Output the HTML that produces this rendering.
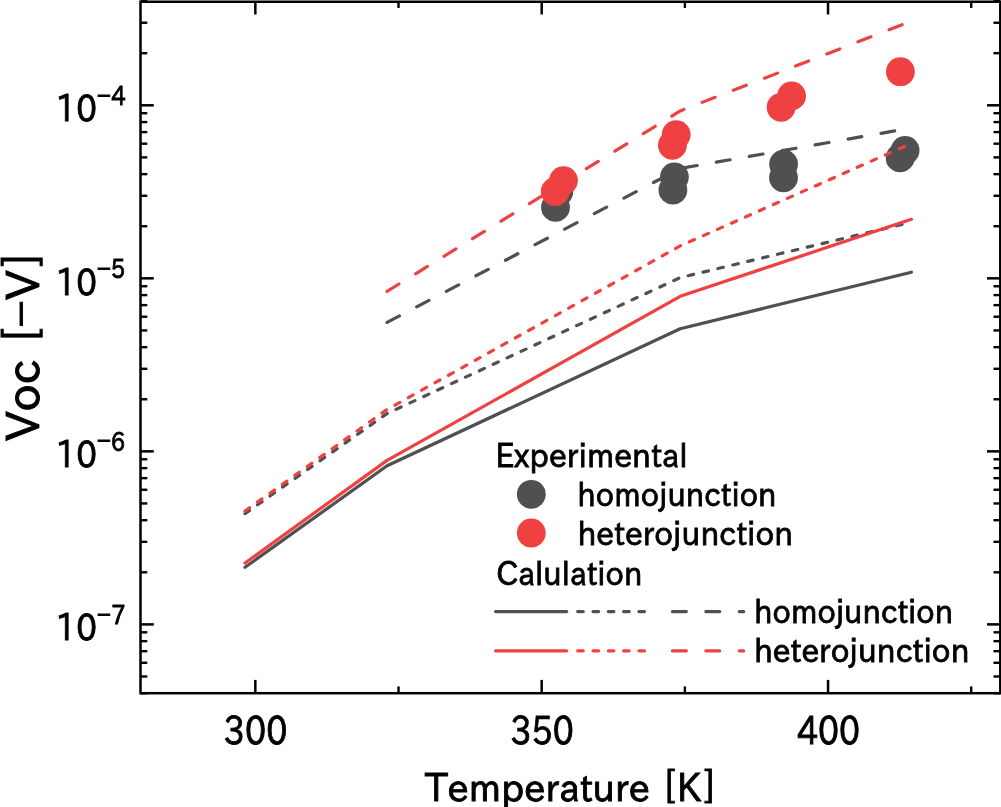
<!DOCTYPE html>
<html><head><meta charset="utf-8"><title>Voc vs Temperature</title>
<style>html,body{margin:0;padding:0;background:#fff;overflow:hidden}svg{display:block;filter:blur(0.35px)}</style>
</head><body>
<svg width="1001" height="807" viewBox="0 0 1001 807"><g fill="#505050"><circle cx="555.5" cy="207.4" r="14.4"/><circle cx="558.8" cy="191.8" r="14.4"/><circle cx="674.4" cy="177" r="14.4"/><circle cx="672.9" cy="190" r="14.4"/><circle cx="783.6" cy="164.2" r="14.4"/><circle cx="783.5" cy="177.8" r="14.4"/><circle cx="905.1" cy="150.5" r="14.4"/><circle cx="900.1" cy="157.9" r="14.4"/></g>
<g fill="#EF4141"><circle cx="555.2" cy="191.6" r="14.4"/><circle cx="563.5" cy="180.6" r="14.4"/><circle cx="676.2" cy="134.7" r="14.4"/><circle cx="672.4" cy="145.3" r="14.4"/><circle cx="791.6" cy="95.9" r="14.4"/><circle cx="781.1" cy="107.3" r="14.4"/><circle cx="900.4" cy="71.7" r="14.4"/></g>
<polyline points="245.0,567.2 387.1,465.8 680.2,328.7 911.4,272.2" fill="none" stroke="#505050" stroke-width="3.2" stroke-linecap="round" stroke-linejoin="round" />
<polyline points="245.0,513.6 387.1,413.5 680.2,277.6 911.4,222.2" fill="none" stroke="#505050" stroke-width="3.2" stroke-linecap="round" stroke-linejoin="round" stroke-dasharray="5.56 9.745"/>
<polyline points="387.1,322.4 680.2,168.5 911.4,128.0" fill="none" stroke="#505050" stroke-width="3.2" stroke-linecap="round" stroke-linejoin="round" stroke-dasharray="13.93 19.5"/>
<polyline points="245.0,563.0 387.1,460.4 680.2,296.3 911.4,219.3" fill="none" stroke="#EF4141" stroke-width="3.2" stroke-linecap="round" stroke-linejoin="round" />
<polyline points="245.0,511.0 387.1,409.5 680.2,245.9 911.4,143.3" fill="none" stroke="#EF4141" stroke-width="3.2" stroke-linecap="round" stroke-linejoin="round" stroke-dasharray="5.56 9.745"/>
<polyline points="387.1,291.3 680.2,110.9 911.4,21.1" fill="none" stroke="#EF4141" stroke-width="3.2" stroke-linecap="round" stroke-linejoin="round" stroke-dasharray="13.93 19.5"/>
<line x1="255.34" y1="693.20" x2="255.34" y2="679.90" stroke="#000" stroke-width="2.5"/><line x1="255.34" y1="1.75" x2="255.34" y2="14.45" stroke="#000" stroke-width="2.5"/><line x1="541.69" y1="693.20" x2="541.69" y2="679.90" stroke="#000" stroke-width="2.5"/><line x1="541.69" y1="1.75" x2="541.69" y2="14.45" stroke="#000" stroke-width="2.5"/><line x1="828.04" y1="693.20" x2="828.04" y2="679.90" stroke="#000" stroke-width="2.5"/><line x1="828.04" y1="1.75" x2="828.04" y2="14.45" stroke="#000" stroke-width="2.5"/><line x1="398.52" y1="693.20" x2="398.52" y2="686.40" stroke="#000" stroke-width="2.4"/><line x1="398.52" y1="1.75" x2="398.52" y2="7.95" stroke="#000" stroke-width="2.4"/><line x1="684.87" y1="693.20" x2="684.87" y2="686.40" stroke="#000" stroke-width="2.4"/><line x1="684.87" y1="1.75" x2="684.87" y2="7.95" stroke="#000" stroke-width="2.4"/><line x1="971.22" y1="693.20" x2="971.22" y2="686.40" stroke="#000" stroke-width="2.4"/><line x1="971.22" y1="1.75" x2="971.22" y2="7.95" stroke="#000" stroke-width="2.4"/><line x1="140.50" y1="693.25" x2="147.30" y2="693.25" stroke="#000" stroke-width="2.4"/><line x1="1000.30" y1="693.25" x2="993.50" y2="693.25" stroke="#000" stroke-width="2.4"/><line x1="140.50" y1="676.48" x2="147.30" y2="676.48" stroke="#000" stroke-width="2.4"/><line x1="1000.30" y1="676.48" x2="993.50" y2="676.48" stroke="#000" stroke-width="2.4"/><line x1="140.50" y1="662.78" x2="147.30" y2="662.78" stroke="#000" stroke-width="2.4"/><line x1="1000.30" y1="662.78" x2="993.50" y2="662.78" stroke="#000" stroke-width="2.4"/><line x1="140.50" y1="651.19" x2="147.30" y2="651.19" stroke="#000" stroke-width="2.4"/><line x1="1000.30" y1="651.19" x2="993.50" y2="651.19" stroke="#000" stroke-width="2.4"/><line x1="140.50" y1="641.16" x2="147.30" y2="641.16" stroke="#000" stroke-width="2.4"/><line x1="1000.30" y1="641.16" x2="993.50" y2="641.16" stroke="#000" stroke-width="2.4"/><line x1="140.50" y1="632.31" x2="147.30" y2="632.31" stroke="#000" stroke-width="2.4"/><line x1="1000.30" y1="632.31" x2="993.50" y2="632.31" stroke="#000" stroke-width="2.4"/><line x1="140.50" y1="624.39" x2="153.80" y2="624.39" stroke="#000" stroke-width="2.5"/><line x1="1000.30" y1="624.39" x2="987.00" y2="624.39" stroke="#000" stroke-width="2.5"/><line x1="140.50" y1="572.30" x2="147.30" y2="572.30" stroke="#000" stroke-width="2.4"/><line x1="1000.30" y1="572.30" x2="993.50" y2="572.30" stroke="#000" stroke-width="2.4"/><line x1="140.50" y1="541.83" x2="147.30" y2="541.83" stroke="#000" stroke-width="2.4"/><line x1="1000.30" y1="541.83" x2="993.50" y2="541.83" stroke="#000" stroke-width="2.4"/><line x1="140.50" y1="520.22" x2="147.30" y2="520.22" stroke="#000" stroke-width="2.4"/><line x1="1000.30" y1="520.22" x2="993.50" y2="520.22" stroke="#000" stroke-width="2.4"/><line x1="140.50" y1="503.45" x2="147.30" y2="503.45" stroke="#000" stroke-width="2.4"/><line x1="1000.30" y1="503.45" x2="993.50" y2="503.45" stroke="#000" stroke-width="2.4"/><line x1="140.50" y1="489.75" x2="147.30" y2="489.75" stroke="#000" stroke-width="2.4"/><line x1="1000.30" y1="489.75" x2="993.50" y2="489.75" stroke="#000" stroke-width="2.4"/><line x1="140.50" y1="478.16" x2="147.30" y2="478.16" stroke="#000" stroke-width="2.4"/><line x1="1000.30" y1="478.16" x2="993.50" y2="478.16" stroke="#000" stroke-width="2.4"/><line x1="140.50" y1="468.13" x2="147.30" y2="468.13" stroke="#000" stroke-width="2.4"/><line x1="1000.30" y1="468.13" x2="993.50" y2="468.13" stroke="#000" stroke-width="2.4"/><line x1="140.50" y1="459.28" x2="147.30" y2="459.28" stroke="#000" stroke-width="2.4"/><line x1="1000.30" y1="459.28" x2="993.50" y2="459.28" stroke="#000" stroke-width="2.4"/><line x1="140.50" y1="451.36" x2="153.80" y2="451.36" stroke="#000" stroke-width="2.5"/><line x1="1000.30" y1="451.36" x2="987.00" y2="451.36" stroke="#000" stroke-width="2.5"/><line x1="140.50" y1="399.27" x2="147.30" y2="399.27" stroke="#000" stroke-width="2.4"/><line x1="1000.30" y1="399.27" x2="993.50" y2="399.27" stroke="#000" stroke-width="2.4"/><line x1="140.50" y1="368.80" x2="147.30" y2="368.80" stroke="#000" stroke-width="2.4"/><line x1="1000.30" y1="368.80" x2="993.50" y2="368.80" stroke="#000" stroke-width="2.4"/><line x1="140.50" y1="347.19" x2="147.30" y2="347.19" stroke="#000" stroke-width="2.4"/><line x1="1000.30" y1="347.19" x2="993.50" y2="347.19" stroke="#000" stroke-width="2.4"/><line x1="140.50" y1="330.42" x2="147.30" y2="330.42" stroke="#000" stroke-width="2.4"/><line x1="1000.30" y1="330.42" x2="993.50" y2="330.42" stroke="#000" stroke-width="2.4"/><line x1="140.50" y1="316.72" x2="147.30" y2="316.72" stroke="#000" stroke-width="2.4"/><line x1="1000.30" y1="316.72" x2="993.50" y2="316.72" stroke="#000" stroke-width="2.4"/><line x1="140.50" y1="305.13" x2="147.30" y2="305.13" stroke="#000" stroke-width="2.4"/><line x1="1000.30" y1="305.13" x2="993.50" y2="305.13" stroke="#000" stroke-width="2.4"/><line x1="140.50" y1="295.10" x2="147.30" y2="295.10" stroke="#000" stroke-width="2.4"/><line x1="1000.30" y1="295.10" x2="993.50" y2="295.10" stroke="#000" stroke-width="2.4"/><line x1="140.50" y1="286.25" x2="147.30" y2="286.25" stroke="#000" stroke-width="2.4"/><line x1="1000.30" y1="286.25" x2="993.50" y2="286.25" stroke="#000" stroke-width="2.4"/><line x1="140.50" y1="278.33" x2="153.80" y2="278.33" stroke="#000" stroke-width="2.5"/><line x1="1000.30" y1="278.33" x2="987.00" y2="278.33" stroke="#000" stroke-width="2.5"/><line x1="140.50" y1="226.24" x2="147.30" y2="226.24" stroke="#000" stroke-width="2.4"/><line x1="1000.30" y1="226.24" x2="993.50" y2="226.24" stroke="#000" stroke-width="2.4"/><line x1="140.50" y1="195.77" x2="147.30" y2="195.77" stroke="#000" stroke-width="2.4"/><line x1="1000.30" y1="195.77" x2="993.50" y2="195.77" stroke="#000" stroke-width="2.4"/><line x1="140.50" y1="174.16" x2="147.30" y2="174.16" stroke="#000" stroke-width="2.4"/><line x1="1000.30" y1="174.16" x2="993.50" y2="174.16" stroke="#000" stroke-width="2.4"/><line x1="140.50" y1="157.39" x2="147.30" y2="157.39" stroke="#000" stroke-width="2.4"/><line x1="1000.30" y1="157.39" x2="993.50" y2="157.39" stroke="#000" stroke-width="2.4"/><line x1="140.50" y1="143.69" x2="147.30" y2="143.69" stroke="#000" stroke-width="2.4"/><line x1="1000.30" y1="143.69" x2="993.50" y2="143.69" stroke="#000" stroke-width="2.4"/><line x1="140.50" y1="132.10" x2="147.30" y2="132.10" stroke="#000" stroke-width="2.4"/><line x1="1000.30" y1="132.10" x2="993.50" y2="132.10" stroke="#000" stroke-width="2.4"/><line x1="140.50" y1="122.07" x2="147.30" y2="122.07" stroke="#000" stroke-width="2.4"/><line x1="1000.30" y1="122.07" x2="993.50" y2="122.07" stroke="#000" stroke-width="2.4"/><line x1="140.50" y1="113.22" x2="147.30" y2="113.22" stroke="#000" stroke-width="2.4"/><line x1="1000.30" y1="113.22" x2="993.50" y2="113.22" stroke="#000" stroke-width="2.4"/><line x1="140.50" y1="105.30" x2="153.80" y2="105.30" stroke="#000" stroke-width="2.5"/><line x1="1000.30" y1="105.30" x2="987.00" y2="105.30" stroke="#000" stroke-width="2.5"/><line x1="140.50" y1="53.21" x2="147.30" y2="53.21" stroke="#000" stroke-width="2.4"/><line x1="1000.30" y1="53.21" x2="993.50" y2="53.21" stroke="#000" stroke-width="2.4"/><line x1="140.50" y1="22.74" x2="147.30" y2="22.74" stroke="#000" stroke-width="2.4"/><line x1="1000.30" y1="22.74" x2="993.50" y2="22.74" stroke="#000" stroke-width="2.4"/><line x1="140.50" y1="1.13" x2="147.30" y2="1.13" stroke="#000" stroke-width="2.4"/><line x1="1000.30" y1="1.13" x2="993.50" y2="1.13" stroke="#000" stroke-width="2.4"/>
<rect x="140.5" y="1.75" width="859.80" height="691.45" fill="none" stroke="#000" stroke-width="2.5" stroke-linejoin="miter"/>
<g font-family="IPAPGothic, 'Liberation Sans', sans-serif" fill="#000" stroke="#000" stroke-width="0.9"><text transform="translate(223.78,743.76) scale(0.8853,1.0000)" font-size="38" textLength="71.81" lengthAdjust="spacingAndGlyphs">300</text><text transform="translate(510.39,743.76) scale(0.8824,1.0000)" font-size="38" textLength="71.81" lengthAdjust="spacingAndGlyphs">350</text><text transform="translate(796.99,743.76) scale(0.8781,1.0000)" font-size="38" textLength="71.81" lengthAdjust="spacingAndGlyphs">400</text><text transform="translate(55.47,121.27) scale(0.8989,1.0000)" font-size="36.6" textLength="46.11" lengthAdjust="spacingAndGlyphs">10</text><text transform="translate(96.54,105.21) scale(0.8936,1)" font-size="25.6" stroke-width="0.9" dx="0 0.33" dy="-1.71 1.71" textLength="32.58" lengthAdjust="spacingAndGlyphs">−4</text><text transform="translate(55.47,294.57) scale(0.8989,1.0000)" font-size="36.6" textLength="46.11" lengthAdjust="spacingAndGlyphs">10</text><text transform="translate(96.54,278.12) scale(0.8936,1)" font-size="25.6" stroke-width="0.9" dx="0 -0.17" dy="-1.33 1.33" textLength="32.08" lengthAdjust="spacingAndGlyphs">−5</text><text transform="translate(55.47,467.17) scale(0.8989,1.0000)" font-size="36.6" textLength="46.11" lengthAdjust="spacingAndGlyphs">10</text><text transform="translate(96.54,450.72) scale(0.8936,1)" font-size="25.6" stroke-width="0.9" dx="0 -0.10" dy="-1.33 1.33" textLength="32.15" lengthAdjust="spacingAndGlyphs">−6</text><text transform="translate(55.47,640.37) scale(0.8989,1.0000)" font-size="36.6" textLength="46.11" lengthAdjust="spacingAndGlyphs">10</text><text transform="translate(96.54,624.31) scale(0.8936,1)" font-size="25.6" stroke-width="0.9" dx="0 0.33" dy="-1.71 1.71" textLength="32.58" lengthAdjust="spacingAndGlyphs">−7</text><text transform="translate(425.32,800.70) scale(0.9663,1)" font-size="38.5" stroke-width="0.9" dx="0 0 0 0 0 0 0 0 0 0 0 0 4.77 1.33 2.81" dy="0 0 0 0 0 0 0 0 0 0 0 0 -2.90 2.90 -2.90" textLength="299.72" lengthAdjust="spacingAndGlyphs">Temperature [K]</text><text transform="translate(495.42,467.10) scale(0.9965,1.0000)" font-size="31.5" textLength="192.91" lengthAdjust="spacingAndGlyphs" stroke-width="0.8">Experimental</text><text transform="translate(577.24,506.40) scale(0.9684,1.0000)" font-size="31.5" textLength="205.77" lengthAdjust="spacingAndGlyphs" stroke-width="0.8">homojunction</text><text transform="translate(577.39,545.10) scale(0.9914,1.0000)" font-size="31.5" textLength="217.70" lengthAdjust="spacingAndGlyphs" stroke-width="0.8">heterojunction</text><text transform="translate(496.16,584.60) scale(0.9689,1.0000)" font-size="31.5" textLength="150.98" lengthAdjust="spacingAndGlyphs" stroke-width="0.8">Calulation</text><text transform="translate(753.94,623.40) scale(0.9684,1.0000)" font-size="31.5" textLength="205.77" lengthAdjust="spacingAndGlyphs" stroke-width="0.8">homojunction</text><text transform="translate(753.89,662.20) scale(0.9905,1.0000)" font-size="31.5" textLength="217.70" lengthAdjust="spacingAndGlyphs" stroke-width="0.8">heterojunction</text></g>
<g transform="rotate(-90)" font-family="IPAPGothic, 'Liberation Sans', sans-serif" fill="#000" stroke="#000" stroke-width="0.9"><text transform="translate(-440.46,38.55) scale(0.9886,1)" font-size="45.9" stroke-width="0.9" dx="0 0 0 0 6.11 -0.39 -0.10 3.40" dy="0 0 0 0 -3.10 0.69 2.41 -3.10" textLength="189.02" lengthAdjust="spacingAndGlyphs">Voc [−V]</text></g>
<line x1="495.6" y1="611.6" x2="566.7" y2="611.6" stroke="#505050" stroke-width="3.2" stroke-linecap="round"/><line x1="577.7" y1="611.6" x2="648" y2="611.6" stroke="#505050" stroke-width="3.2" stroke-linecap="round" stroke-dasharray="5.56 9.745"/><line x1="672.4" y1="611.6" x2="743.7" y2="611.6" stroke="#505050" stroke-width="3.2" stroke-linecap="round" stroke-dasharray="13.93 19.5"/><line x1="495.6" y1="650.8" x2="566.7" y2="650.8" stroke="#EF4141" stroke-width="3.2" stroke-linecap="round"/><line x1="577.7" y1="650.8" x2="648" y2="650.8" stroke="#EF4141" stroke-width="3.2" stroke-linecap="round" stroke-dasharray="5.56 9.745"/><line x1="672.4" y1="650.8" x2="743.7" y2="650.8" stroke="#EF4141" stroke-width="3.2" stroke-linecap="round" stroke-dasharray="13.93 19.5"/><circle cx="531.3" cy="494.3" r="14.4" fill="#505050"/><circle cx="531.3" cy="533" r="14.4" fill="#EF4141"/></svg>
</body></html>
